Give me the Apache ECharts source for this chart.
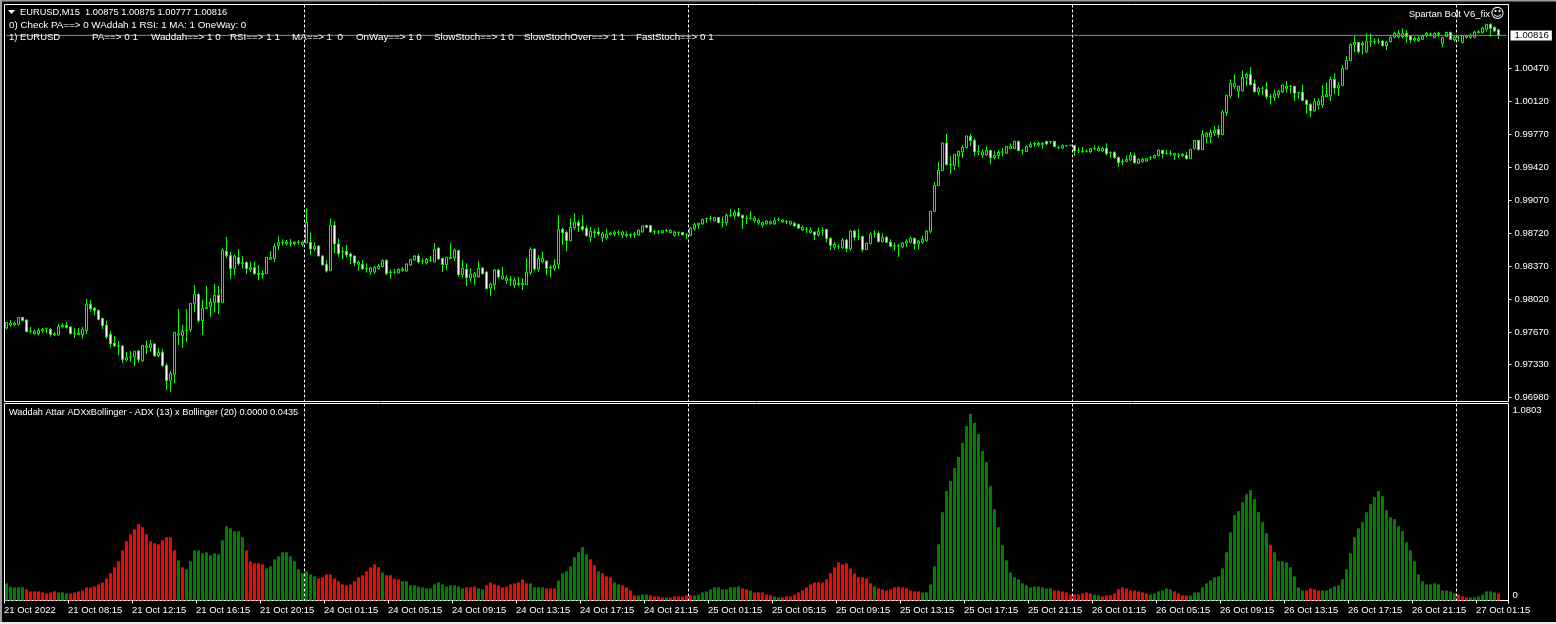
<!DOCTYPE html>
<html>
<head>
<meta charset="utf-8">
<title>EURUSD,M15</title>
<script src="https://cdn.jsdelivr.net/npm/echarts@6/dist/echarts.min.js"></script>
<style>
html, body { margin: 0; padding: 0; background: #000; }
#echart { width: 1556px; height: 624px; }
</style>
</head>
<body>
<div id="echart"></div>
<script>
// prices are in 1e-5 units (points), one entry per M15 candle
var opens = [
	97714,97746,97746,97750,97827,97799,97679,97654,97654,97686,
	97711,97700,97640,97640,97725,97743,97725,97654,97644,97644,
	97686,97965,97923,97902,97817,97743,97647,97552,97524,97524,
	97375,97403,97407,97470,97365,97506,97506,97545,97421,97456,
	97319,97156,97223,97637,97633,97686,97697,97972,98071,97792,
	97923,97940,97983,98061,97986,98527,98484,98343,98463,98396,
	98410,98333,98354,98280,98280,98290,98442,98449,98587,98622,
	98605,98615,98608,98622,98601,98615,98622,98552,98583,98477,
	98389,98322,98802,98605,98523,98527,98499,98477,98389,98389,
	98343,98308,98308,98343,98364,98431,98301,98304,98297,98322,
	98318,98382,98435,98477,98424,98403,98431,98414,98562,98453,
	98386,98453,98456,98537,98280,98336,98244,98255,98255,98350,
	98308,98138,98174,98329,98234,98216,98223,98170,98174,98174,
	98174,98301,98552,98340,98414,98424,98350,98343,98389,98760,
	98728,98640,98778,98834,98792,98771,98679,98725,98732,98672,
	98668,98707,98711,98728,98700,98693,98700,98707,98700,98732,
	98802,98802,98735,98732,98725,98746,98725,98696,98728,98728,
	98704,98693,98764,98806,98817,98873,98873,98849,98887,98834,
	98831,98905,98901,98940,98909,98877,98877,98852,98827,98806,
	98817,98820,98817,98866,98838,98841,98817,98824,98813,98753,
	98760,98725,98732,98700,98746,98760,98665,98569,98576,98566,
	98647,98555,98743,98682,98686,98545,98608,98714,98718,98629,
	98675,98622,98587,98584,98573,98612,98622,98665,98605,98622,
	98640,98739,98951,99223,99382,99675,99446,99438,99537,99583,
	99626,99746,99703,99583,99548,99548,99597,99520,99544,99580,
	99566,99615,99615,99693,99594,99583,99633,99668,99654,99661,
	99693,99689,99693,99626,99622,99647,99651,99651,99594,99587,
	99587,99583,99615,99594,99590,99619,99573,99576,99523,99474,
	99477,99495,99541,99460,99477,99481,99520,99516,99541,99598,
	99562,99562,99545,99548,99541,99545,99509,99615,99704,99605,
	99739,99739,99781,99820,99764,99997,100173,100272,100226,100226,
	100368,100403,100304,100216,100255,100244,100166,100156,100184,100216,
	100255,100276,100276,100209,100212,100127,100085,100018,100078,100078,
	100166,100173,100350,100258,100283,100460,100548,100718,100742,100714,
	100643,100749,100749,100749,100756,100707,100749,100795,100802,100802,
	100838,100809,100767,100760,100774,100816,100827,100792,100827,100732,
	100802,100848,100767,100795,100739,100795,100795,100795,100845,100845,
	100880,100933,100901,100875
];
var closes = [
	97771,97767,97767,97827,97792,97675,97679,97679,97690,97700,
	97711,97647,97651,97732,97743,97721,97654,97658,97658,97700,
	97965,97919,97902,97803,97739,97619,97548,97524,97524,97379,
	97403,97407,97467,97379,97531,97524,97545,97421,97456,97315,
	97156,97234,97668,97654,97679,97690,97976,98071,97792,97923,
	97933,97990,98061,97983,98537,98481,98343,98477,98396,98410,
	98343,98354,98290,98294,98294,98463,98463,98583,98622,98622,
	98626,98615,98626,98622,98626,98834,98552,98583,98477,98382,
	98318,98802,98605,98502,98523,98488,98470,98403,98410,98340,
	98347,98350,98357,98371,98431,98290,98308,98304,98336,98340,
	98393,98442,98477,98414,98424,98442,98431,98548,98446,98386,
	98463,98463,98541,98280,98347,98248,98287,98290,98347,98290,
	98131,98181,98329,98255,98266,98244,98223,98223,98188,98188,
	98304,98548,98340,98453,98453,98347,98357,98382,98760,98725,
	98640,98781,98834,98795,98760,98693,98739,98735,98711,98718,
	98707,98721,98728,98728,98732,98707,98700,98707,98753,98795,
	98781,98732,98735,98732,98746,98746,98749,98732,98728,98700,
	98704,98774,98813,98824,98866,98873,98873,98884,98831,98834,
	98909,98905,98940,98901,98880,98877,98877,98880,98856,98834,
	98849,98841,98852,98866,98859,98841,98845,98796,98774,98781,
	98760,98753,98700,98739,98746,98661,98591,98601,98576,98647,
	98555,98743,98675,98682,98545,98612,98707,98714,98629,98675,
	98622,98580,98587,98584,98615,98636,98665,98605,98636,98654,
	98743,98951,99226,99385,99675,99446,99446,99555,99587,99629,
	99749,99700,99583,99583,99580,99597,99520,99544,99576,99580,
	99640,99640,99693,99594,99594,99640,99661,99668,99672,99672,
	99665,99689,99636,99626,99647,99647,99651,99590,99594,99587,
	99587,99615,99615,99619,99619,99562,99573,99520,99467,99474,
	99502,99545,99467,99502,99502,99509,99520,99545,99601,99562,
	99562,99562,99562,99548,99559,99509,99608,99704,99605,99767,
	99778,99788,99810,99764,100004,100181,100308,100308,100279,100371,
	100403,100294,100219,100255,100255,100166,100166,100202,100223,100290,
	100276,100276,100202,100209,100124,100082,100015,100113,100120,100170,
	100191,100350,100258,100286,100467,100551,100721,100742,100643,100732,
	100749,100749,100749,100749,100707,100742,100795,100838,100838,100838,
	100802,100767,100785,100785,100809,100838,100827,100838,100838,100795,
	100848,100774,100795,100795,100813,100809,100816,100852,100855,100894,
	100933,100891,100862,100816
];
var lows = [
	97700,97728,97735,97743,97792,97672,97658,97644,97633,97665,
	97658,97622,97630,97633,97711,97707,97647,97608,97640,97601,
	97651,97887,97852,97799,97704,97598,97513,97513,97428,97343,
	97361,97357,97312,97347,97357,97439,97463,97410,97403,97304,
	97057,97036,97131,97534,97502,97566,97672,97884,97767,97640,
	97912,97831,97880,97863,97983,98456,98234,98276,98375,98347,
	98287,98308,98276,98223,98237,98287,98435,98414,98541,98587,
	98590,98576,98587,98598,98576,98615,98488,98530,98474,98378,
	98301,98318,98506,98467,98446,98463,98393,98371,98322,98333,
	98301,98276,98287,98336,98357,98276,98234,98290,98290,98311,
	98308,98371,98428,98396,98393,98386,98414,98410,98435,98308,
	98329,98449,98424,98255,98251,98159,98205,98170,98251,98280,
	98124,98053,98117,98237,98230,98181,98159,98138,98159,98117,
	98170,98276,98318,98311,98400,98276,98255,98322,98340,98594,
	98530,98636,98753,98732,98742,98682,98626,98668,98689,98626,
	98654,98696,98689,98696,98668,98672,98668,98668,98689,98725,
	98771,98721,98707,98707,98718,98732,98718,98682,98689,98700,
	98658,98690,98746,98760,98806,98831,98852,98845,98824,98778,
	98795,98894,98870,98894,98764,98817,98859,98831,98806,98778,
	98810,98810,98806,98849,98831,98817,98803,98788,98764,98743,
	98721,98718,98647,98682,98690,98622,98541,98541,98552,98555,
	98520,98530,98640,98647,98520,98541,98601,98672,98626,98619,
	98619,98569,98534,98467,98559,98573,98612,98548,98548,98605,
	98626,98718,98947,99219,99378,99435,99347,99389,99421,99516,
	99615,99643,99537,99544,99516,99537,99453,99502,99506,99534,
	99559,99612,99608,99590,99552,99580,99622,99636,99633,99612,
	99654,99665,99633,99608,99612,99636,99647,99538,99569,99573,
	99573,99566,99601,99587,99580,99541,99516,99506,99424,99442,
	99474,99484,99456,99456,99467,99474,99495,99509,99530,99513,
	99555,99541,99495,99516,99523,99502,99506,99608,99594,99601,
	99672,99675,99753,99732,99757,99961,100149,100248,100152,100223,
	100279,100283,100209,100184,100184,100142,100082,100120,100152,100205,
	100209,100202,100120,100142,100120,99986,99951,100007,100032,100050,
	100163,100120,100195,100173,100279,100456,100544,100640,100619,100615,
	100626,100696,100721,100725,100696,100661,100739,100785,100785,100785,
	100739,100732,100749,100749,100767,100795,100802,100785,100795,100689,
	100795,100767,100749,100749,100732,100785,100781,100785,100838,100838,
	100855,100802,100848,100777
];
var highs = [
	97771,97799,97781,97827,97827,97806,97725,97700,97711,97714,
	97711,97714,97672,97757,97767,97778,97735,97711,97714,97725,
	98022,98011,97940,97905,97817,97792,97683,97629,97577,97531,
	97460,97470,97467,97481,97531,97577,97587,97552,97499,97492,
	97343,97259,97668,97916,97746,97916,97976,98170,98082,98011,
	98159,98032,98181,98159,98559,98679,98523,98495,98552,98477,
	98421,98417,98414,98382,98329,98467,98530,98612,98689,98654,
	98647,98658,98636,98647,98636,98983,98725,98622,98594,98488,
	98435,98877,98848,98665,98573,98594,98513,98484,98428,98435,
	98400,98364,98371,98393,98442,98442,98336,98340,98347,98361,
	98400,98446,98488,98499,98453,98456,98481,98615,98569,98456,
	98470,98615,98559,98541,98435,98400,98347,98308,98424,98364,
	98318,98195,98340,98340,98361,98276,98266,98251,98255,98241,
	98456,98569,98559,98488,98523,98431,98382,98442,98912,98781,
	98746,98877,98930,98859,98912,98799,98788,98760,98781,98732,
	98764,98732,98746,98753,98742,98742,98718,98732,98760,98802,
	98802,98809,98753,98753,98746,98764,98760,98746,98732,98728,
	98718,98781,98831,98827,98873,98884,98901,98891,98891,98894,
	98930,98976,98965,98986,98916,98909,98951,98901,98873,98841,
	98856,98852,98887,98884,98870,98859,98849,98838,98820,98803,
	98785,98781,98735,98781,98781,98764,98675,98626,98601,98668,
	98658,98753,98753,98764,98690,98619,98728,98750,98739,98721,
	98690,98654,98619,98605,98622,98654,98682,98672,98647,98693,
	98753,98955,99262,99474,99675,99771,99537,99559,99594,99654,
	99756,99771,99725,99654,99608,99643,99601,99590,99601,99622,
	99643,99672,99700,99700,99612,99647,99686,99686,99689,99686,
	99693,99693,99697,99643,99661,99651,99654,99654,99629,99633,
	99605,99622,99651,99643,99636,99672,99587,99587,99530,99506,
	99541,99580,99573,99509,99520,99516,99538,99552,99608,99601,
	99601,99598,99573,99569,99569,99580,99612,99707,99707,99810,
	99792,99824,99855,99863,100025,100188,100350,100403,100279,100446,
	100421,100481,100350,100272,100272,100322,100195,100237,100237,100297,
	100332,100290,100283,100212,100290,100138,100096,100149,100149,100290,
	100318,100378,100414,100322,100498,100597,100732,100809,100746,100749,
	100838,100838,100785,100785,100767,100760,100820,100855,100873,100891,
	100873,100820,100802,100809,100824,100852,100845,100848,100855,100802,
	100855,100855,100809,100809,100820,100820,100838,100866,100873,100908,
	100937,100944,100915,100875
];
// Waddah Attar histogram
var waddah = [
	.094,.077,.072,.072,.072,.061,.05,.05,.05,.044,
	.039,.044,.05,.044,.044,.039,.039,.044,.05,.055,
	.072,.072,.077,.088,.099,.121,.149,.182,.215,.275,
	.325,.363,.391,.418,.402,.363,.325,.314,.308,.33,
	.347,.347,.275,.22,.182,.171,.215,.275,.275,.259,
	.264,.248,.259,.253,.33,.407,.396,.38,.38,.347,
	.275,.215,.204,.204,.198,.176,.187,.226,.242,.264,
	.264,.242,.215,.171,.149,.16,.143,.132,.121,.127,
	.143,.143,.121,.105,.088,.083,.088,.105,.127,.138,
	.16,.182,.198,.182,.154,.138,.138,.121,.116,.105,
	.105,.083,.083,.077,.072,.066,.066,.088,.099,.088,
	.077,.083,.083,.077,.066,.072,.072,.077,.066,.061,
	.083,.099,.088,.083,.072,.077,.088,.094,.099,.116,
	.094,.094,.072,.072,.072,.066,.066,.066,.11,.149,
	.16,.187,.237,.264,.292,.253,.226,.193,.16,.149,
	.132,.127,.099,.088,.083,.072,.055,.028,.028,.033,
	.033,.028,.022,.022,.017,.017,.017,.022,.022,.022,
	.028,.028,.028,.033,.044,.05,.061,.072,.072,.061,
	.061,.072,.072,.077,.066,.061,.055,.044,.044,.044,
	.033,.028,.022,.017,.017,.022,.022,.033,.044,.055,
	.072,.088,.099,.099,.099,.116,.149,.182,.209,.198,
	.204,.176,.149,.127,.127,.121,.094,.077,.066,.061,
	.055,.061,.072,.077,.072,.066,.055,.05,.05,.044,
	.044,.088,.187,.308,.484,.6,.655,.726,.787,.864,
	.957,1.023,.974,.913,.82,.759,.627,.501,.402,.303,
	.22,.154,.127,.116,.094,.083,.072,.077,.077,.072,
	.066,.066,.055,.055,.05,.044,.033,.033,.033,.039,
	.044,.039,.033,.028,.022,.028,.028,.039,.061,.072,
	.066,.055,.055,.05,.044,.039,.033,.039,.05,.055,
	.066,.061,.05,.039,.028,.028,.028,.044,.044,.072,
	.094,.11,.127,.132,.176,.264,.374,.468,.49,.539,
	.583,.605,.556,.484,.429,.369,.303,.264,.215,.215,
	.209,.182,.132,.072,.055,.055,.066,.061,.055,.055,
	.055,.066,.077,.083,.116,.171,.259,.347,.396,.429,
	.484,.528,.567,.6,.572,.495,.457,.446,.407,.38,
	.319,.275,.215,.143,.105,.088,.088,.094,.088,.055,
	.055,.05,.039,.033,.022,.017,.017,.017,.022,.033,
	.05,.05,.044,.039
];
// index ranges of the green bars, everything else is red
var greenRuns = [[0,4],[13,15],[43,43],[45,59],[65,77],[94,94],[99,114],[118,119],[131,134],[138,145],[148,148],[152,153],[158,160],[165,165],[172,183],[186,186],[192,193],[217,217],[229,261],[272,273],[286,291],[296,315],[317,324],[329,362],[366,372]];
var dateLabels = ['21 Oct 2022','21 Oct 08:15','21 Oct 12:15','21 Oct 16:15','21 Oct 20:15','24 Oct 01:15','24 Oct 05:15','24 Oct 09:15','24 Oct 13:15','24 Oct 17:15','24 Oct 21:15','25 Oct 01:15','25 Oct 05:15','25 Oct 09:15','25 Oct 13:15','25 Oct 17:15','25 Oct 21:15','26 Oct 01:15','26 Oct 05:15','26 Oct 09:15','26 Oct 13:15','26 Oct 17:15','26 Oct 21:15','27 Oct 01:15'];
var priceTicks = [1.0047, 1.0012, 0.9977, 0.9942, 0.9907, 0.9872, 0.9837, 0.9802, 0.9767, 0.9733, 0.9698];
var lastPrice = 1.00816;
var periodSeps = [75, 171, 267, 363];
var labelStep = 16;
var slotCount = 376;

var font = 'Liberation Sans';
var categories = [];
var lastPriceLine = [];
for (var i = 0; i < slotCount; i++) {
	categories.push(i % labelStep === 0 ? dateLabels[i / labelStep] : '');
	lastPriceLine.push(lastPrice);
}

var candles = opens.map(function(o, i) {
	return [o / 1e5, closes[i] / 1e5, lows[i] / 1e5, highs[i] / 1e5];
});

function isGreen(i) {
	return greenRuns.some(function(r) { return i >= r[0] && i <= r[1]; });
}
var bars = waddah.map(function(v, i) {
	return { value: v, itemStyle: { color: isGreen(i) ? '#008000' : '#ff0000' } };
});

function sepLine(i) {
	return periodSeps.indexOf(i) >= 0;
}

function txt(x, y, s, size, align) {
	return {
		type: 'text', silent: true, z: 50,
		style: { x: x, y: y, text: s, fill: '#fff', font: (size || 9.5) + 'px "' + font + '"', align: align || 'left', verticalAlign: 'middle' }
	};
}

var myChart = echarts.init(document.getElementById('echart'));
myChart.setOption({
	animation: false,
	backgroundColor: '#000',
	grid: [
		{ left: 4.5, top: 4.5, width: 1504, height: 397, show: true, borderColor: '#fff', borderWidth: 1, backgroundColor: '#000', outerBoundsMode: 'none' },
		{ left: 4.5, top: 403.5, width: 1504, height: 197, show: true, borderColor: '#fff', borderWidth: 1, backgroundColor: '#000', outerBoundsMode: 'none' }
	],
	xAxis: [{
		type: 'category', gridIndex: 0, data: categories,
		axisLine: { show: false }, axisTick: { show: false }, axisLabel: { show: false },
		splitLine: { show: true, interval: sepLine, lineStyle: { color: '#fff', type: [3, 2], width: 1 } }
	}, {
		type: 'category', gridIndex: 1, data: categories,
		axisLine: { show: false },
		axisTick: { show: true, length: 3, lineStyle: { color: '#fff' }, interval: function(i) { return i % labelStep === 0; } },
		axisLabel: {
			show: true, color: '#fff', fontFamily: font, fontSize: 9.5, margin: 5, align: 'left', padding: [0, 0, 0, -2.5],
			hideOverlap: false, interval: function(i) { return i % labelStep === 0; }
		},
		splitLine: { show: true, interval: sepLine, lineStyle: { color: '#fff', type: [3, 2], width: 1 } }
	}],
	yAxis: [{
		type: 'value', gridIndex: 0, position: 'right', scale: true,
		min: 0.969351, max: 1.011433,
		axisLine: { show: false },
		splitLine: { show: false },
		axisTick: { show: true, length: 3, lineStyle: { color: '#fff' }, customValues: priceTicks },
		axisLabel: {
			color: '#fff', fontFamily: font, fontSize: 9.5, margin: 6, customValues: priceTicks,
			formatter: function(v) { return v.toFixed(5); }
		}
	}, {
		type: 'value', gridIndex: 1, position: 'right',
		min: 0, max: 1.0803,
		axisLine: { show: false },
		splitLine: { show: false },
		axisTick: { show: false },
		axisLabel: {
			color: '#fff', fontFamily: font, fontSize: 9.5, margin: 4, customValues: [0, 1.0803], padding: [2, 0, 0, 0],
			verticalAlignMinLabel: 'bottom', verticalAlignMaxLabel: 'top',
			formatter: function(v) { return v === 0 ? '0' : v.toFixed(4); }
		}
	}],
	series: [{
		type: 'line', xAxisIndex: 0, yAxisIndex: 0, data: lastPriceLine, showSymbol: false, silent: true,
		lineStyle: { color: '#8c9097', width: 1 },
		endLabel: {
			show: true, distance: 4, color: '#000', backgroundColor: '#fff', padding: [0, 3, 0, 4], lineHeight: 10,
			fontFamily: font, fontSize: 9.5, formatter: lastPrice.toFixed(5)
		}
	}, {
		type: 'candlestick', xAxisIndex: 0, yAxisIndex: 0, barWidth: 2, data: candles,
		itemStyle: { color: '#000', color0: '#fff', borderColor: '#00ff00', borderColor0: '#00ff00', borderWidth: 1 }
	}, {
		type: 'bar', xAxisIndex: 1, yAxisIndex: 1, barWidth: 3, data: bars
	}],
	graphic: { elements: [
		{ type: 'rect', silent: true, z: 60, shape: { x: 0, y: 0, width: 2, height: 624 }, style: { fill: '#a0a0a0' } },
		{ type: 'rect', silent: true, z: 60, shape: { x: 0, y: 0, width: 1556, height: 1.5 }, style: { fill: '#a0a0a0' } },
		{ type: 'rect', silent: true, z: 60, shape: { x: 0, y: 622, width: 1556, height: 2 }, style: { fill: '#e8e8e8' } },
		{ type: 'polygon', silent: true, z: 50, shape: { points: [[8, 10], [15, 10], [11.5, 14]] }, style: { fill: '#fff' } },
		txt(20, 12.5, 'EURUSD,M15  1.00875 1.00875 1.00777 1.00816', 9.3),
		txt(9, 25, '0) Check PA==> 0 WAddah 1 RSI: 1 MA: 1 OneWay: 0', 9.8),
		txt(9, 37, '1) EURUSD'),
		txt(92, 37, 'PA==> 0 1', 9.8),
		txt(151, 37, 'Waddah==> 1 0', 9.8),
		txt(230, 37, 'RSI==> 1 1', 9.8),
		txt(292, 37, 'MA==> 1  0', 9.8),
		txt(356, 37, 'OnWay==> 1 0', 9.8),
		txt(434, 37, 'SlowStoch==> 1 0', 9.8),
		txt(524, 37, 'SlowStochOver==> 1 1', 9.8),
		txt(636, 37, 'FastStoch==> 0 1', 9.8),
		txt(1490, 14, 'Spartan Bolt V6_fix', 9.5, 'right'),
		{ type: 'text', silent: true, z: 50, style: { x: 1497.5, y: 14, text: '\u263A', fill: '#fff', font: '14px "DejaVu Sans"', align: 'center', verticalAlign: 'middle' } },
		txt(9, 412, 'Waddah Attar ADXxBollinger - ADX (13) x Bollinger (20) 0.0000 0.0435', 9.2)
	] }
});
</script>
</body>
</html>
